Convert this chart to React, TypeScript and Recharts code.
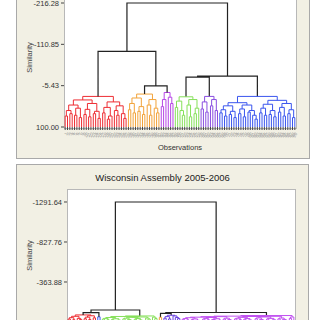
import { ComposedChart, Line, XAxis, YAxis } from "recharts";

// Tree node: 0 = one observation, [height, left, right] = a merge
type Tree = 0 | [number, Tree, Tree];
// upper part of the dendrogram, leaves are cluster names
type Upper = string | [number, Upper, Upper];
type Pt = { x: number; y: number | null };

const LEAF = 100;

// ---- top panel ----
const topTicks = [-216.28, -110.85, -5.43, 100];
const topUpper: Upper = [-216.28, [-93, "red", [-5, "orange", "purple"]], [-30, [-27, "green", "violet"], "blue"]];
const topClusters: Record<string, Tree> = {
  red: [22, [31, [44, [58, [72, 0, 0], [66, 0, 0]], [52, [70, 0, 0], [76, 0, 0]]], [40, [55, [68, 0, 0], [74, 0, 0]], [60, [66, 0, 0], [78, 0, 0]]]], [36, [50, [64, 0, 0], [72, [80, 0, 0], 0]], [46, [58, 0, [70, 0, 0]], [66, 0, [78, 0, 0]]]]],
  orange: [16, [26, [40, [56, 0, 0], [64, 0, 0]], [48, [60, 0, 0], [68, 0, 0]]], [30, [44, 0, [70, 0, 0]], [52, 0, [64, 0, 0]]]],
  purple: [12, [30, [48, 0, 0], 0], [24, 0, [40, 0, 0]]],
  green: [23, [34, [50, 0, 0], [58, 0, [70, 0, 0]]], [30, [44, 0, [74, 0, 0]], [52, [66, 0, 0], 0]]],
  violet: [22, [36, [54, 0, 0], [62, 0, 0]], [30, [46, 0, 0], [58, 0, 0]]],
  blue: [22, [38, [46, [56, [64, 0, 0], [72, 0, 0]], [60, [68, 0, 0], [76, 0, 0]]], [44, [54, [66, 0, 0], [74, 0, 0]], [58, [62, 0, 0], [70, 0, [80, 0, 0]]]]], [32, [42, [52, [64, 0, 0], [70, 0, 0]], [58, [68, 0, 0], [74, 0, 0]]], [40, [50, [62, 0, 0], [72, 0, 0]], [56, [66, 0, 0], [76, 0, 0]]]]],
};
const topColors: Record<string, string> = {
  red: "#ee2d33",
  orange: "#f2a33a",
  purple: "#b646e6",
  green: "#86e05a",
  violet: "#8a4ee0",
  blue: "#3a55ee",
};

// ---- bottom panel ----
const bottomTitle = "Wisconsin Assembly 2005-2006";
const bottomTicks = [-1291.64, -827.76, -363.88];
const bottomUpper: Upper = [-1291.64, [-39, [-8, "red", "blue"], "green"], [-10, [0, "orange", "violet"], "magenta"]];
const bottomClusters: Record<string, Tree> = {
  red: [18, [34, [50, [66, 0, 0], [74, 0, 0]], [58, 0, [70, 0, 0]]], [28, [44, [62, 0, 0], [72, 0, 0]], [52, 0, 0]]],
  blue: [40, 0, 0],
  green: [30, [36, [48, [58, [66, 0, 0], [74, 0, 0]], [62, [70, 0, 0], [78, [86, 0, 0], 0]]], [42, [46, [56, [64, 0, 0], [72, 0, [80, 0, 0]]], [60, [68, 0, 0], [76, 0, [84, 0, 0]]]], [54, 0, [66, 0, 0]]]], [44, 0, [60, 0, 0]]],
  orange: [46, 0, 0],
  violet: [22, [38, [56, 0, 0], [64, 0, 0]], [30, 0, [48, 0, [60, 0, 0]]]],
  magenta: [25, [32, [38, [44, [50, [60, [68, 0, 0], [76, 0, 0]], [64, [72, 0, 0], [80, 0, [88, 0, 0]]]], [48, [58, [66, 0, 0], [74, 0, 0]], [62, [70, 0, [82, 0, 0]], [78, 0, 0]]]], [56, [66, 0, 0], [72, 0, [84, 0, 0]]]], [34, [36, [46, [56, [64, 0, 0], [72, 0, 0]], [60, [68, 0, 0], [76, 0, [84, 0, 0]]]], [42, [52, [62, 0, 0], [70, 0, [80, 0, 0]]], [58, [66, 0, 0], [74, [86, 0, 0], 0]]]], [54, [64, 0, 0], [70, 0, [78, 0, 0]]]]], [42, [58, 0, 0], 0]],
};
const bottomColors: Record<string, string> = {
  red: "#ee2d33",
  blue: "#3a55ee",
  green: "#86e05a",
  orange: "#f0a040",
  violet: "#6a40e0",
  magenta: "#c050f0",
};

const LINK = "#222";

function buildLinks(upper: Upper, clusters: Record<string, Tree>, colors: Record<string, string>) {
  const groups: Record<string, Pt[]> = {};
  let leaf = 0;
  const add = (c: string, a: { x: number; h: number }, b: { x: number; h: number }, h: number) => {
    if (!groups[c]) groups[c] = [];
    groups[c].push({ x: a.x, y: a.h }, { x: a.x, y: h }, { x: b.x, y: h }, { x: b.x, y: b.h }, { x: b.x, y: null });
  };
  const walk = (t: Tree, c: string): { x: number; h: number } => {
    if (t === 0) return { x: leaf++, h: LEAF };
    const l = walk(t[1], c);
    const r = walk(t[2], c);
    add(c, l, r, t[0]);
    return { x: (l.x + r.x) / 2, h: t[0] };
  };
  const walkUp = (u: Upper): { x: number; h: number } => {
    if (typeof u === "string") return walk(clusters[u], colors[u]);
    const l = walkUp(u[1]);
    const r = walkUp(u[2]);
    add(LINK, l, r, u[0]);
    return { x: (l.x + r.x) / 2, h: u[0] };
  };
  walkUp(upper);
  return { groups, count: leaf };
}

function Dendrogram({
  upper, clusters, colors, ticks, yMin, width, height, margin, yWidth, labelOffset, xLabel, showLeafLabels,
}: {
  upper: Upper; clusters: Record<string, Tree>; colors: Record<string, string>; ticks: number[]; yMin: number;
  width: number; height: number; margin: { top: number; right: number; bottom: number; left: number };
  yWidth: number; labelOffset: number; xLabel?: string; showLeafLabels: boolean;
}) {
  const { groups, count } = buildLinks(upper, clusters, colors);
  const leaves = Array.from({ length: count }, (_, i) => i);
  return (
    <ComposedChart width={width} height={height} margin={margin}>
      <XAxis
        type="number"
        dataKey="x"
        domain={[-0.5, count - 0.5]}
        ticks={leaves}
        interval={0}
        tickFormatter={(v: number) => String(v + 1)}
        axisLine={false}
        tickLine={{ stroke: "#444" }}
        tickSize={3}
        height={12}
        tick={showLeafLabels ? { fontSize: 4.5, fill: "#9c9c9c", angle: -60, textAnchor: "end" } : false}
        label={xLabel ? { value: xLabel, position: "bottom", offset: 6, fontSize: 7.5, fill: "#333" } : undefined}
      />
      <YAxis
        type="number"
        domain={[yMin, 100]}
        reversed
        allowDataOverflow
        ticks={ticks}
        interval={0}
        width={yWidth}
        tickFormatter={(v: number) => v.toFixed(2)}
        axisLine={false}
        tickLine={{ stroke: "#444" }}
        tickSize={3}
        tick={{ fontSize: 7.5, fill: "#333" }}
        label={{ value: "Similarity", angle: -90, position: "insideLeft", offset: labelOffset, fontSize: 7.5, fill: "#444", style: { textAnchor: "middle" } }}
      />
      {Object.keys(groups).map((c) => (
        <Line
          key={c}
          data={groups[c]}
          dataKey="y"
          stroke={c}
          strokeWidth={c === LINK ? 1.2 : 1}
          dot={false}
          activeDot={false}
          connectNulls={false}
          isAnimationActive={false}
        />
      ))}
    </ComposedChart>
  );
}

const frame = { position: "absolute" as const, border: "1px solid #a9a9a9", background: "#f2f0e4", boxSizing: "border-box" as const };
const plot = { position: "absolute" as const, border: "1px solid #b8b8b8", background: "#fff", boxSizing: "border-box" as const };

export default function App() {
  return (
    <div
      style={{
        position: "absolute", left: 0, top: 0, width: 320, height: 320, overflow: "hidden",
        background: "#fff", fontFamily: '"Liberation Sans", Arial, sans-serif',
      }}
    >
      {/* top panel */}
      <div style={{ ...frame, left: 16, top: -40, width: 294, height: 199 }} />
      <div style={{ ...plot, left: 64, top: -12, width: 233, height: 141 }} />
      <div style={{ position: "absolute", left: 16, top: -30 }}>
        <Dendrogram
          upper={topUpper}
          clusters={topClusters}
          colors={topColors}
          ticks={topTicks}
          yMin={-254.54}
          width={294}
          height={188}
          margin={{ top: 18, right: 14, bottom: 19, left: 8 }}
          yWidth={40}
          labelOffset={5}
          xLabel="Observations"
          showLeafLabels
        />
      </div>

      {/* bottom panel */}
      <div style={{ ...frame, left: 16, top: 164, width: 293, height: 200 }} />
      <div
        style={{
          position: "absolute", left: 16, top: 172, width: 293, textAlign: "center",
          fontSize: 9.5, lineHeight: "12px", color: "#222",
        }}
      >
        {bottomTitle}
      </div>
      <div style={{ ...plot, left: 67, top: 189, width: 229, height: 150 }} />
      <div style={{ position: "absolute", left: 16, top: 164 }}>
        <Dendrogram
          upper={bottomUpper}
          clusters={bottomClusters}
          colors={bottomColors}
          ticks={bottomTicks}
          yMin={-1442.4}
          width={293}
          height={200}
          margin={{ top: 25, right: 14, bottom: 30, left: 7 }}
          yWidth={44}
          labelOffset={6}
          showLeafLabels={false}
        />
      </div>
    </div>
  );
}
